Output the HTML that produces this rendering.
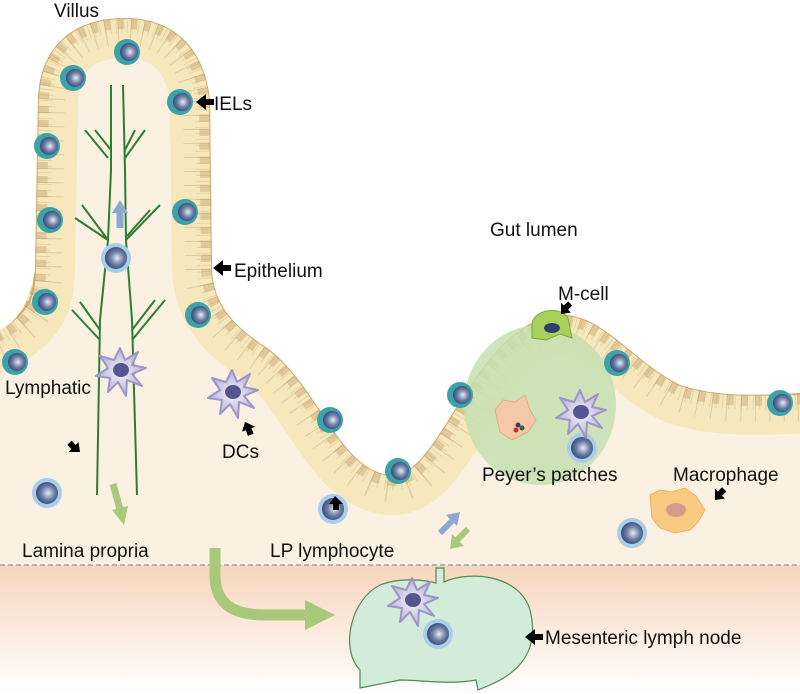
<!DOCTYPE html>
<html><head><style>
html,body{margin:0;padding:0;background:#fff;}
svg{display:block;font-family:"Liberation Sans",sans-serif;}
</style></head><body>
<svg width="800" height="694" viewBox="0 0 800 694" xmlns="http://www.w3.org/2000/svg">
<defs>
<linearGradient id="bot" x1="0" y1="0" x2="0" y2="1">
<stop offset="0" stop-color="#f7d5bd"/><stop offset="1" stop-color="#ffffff"/>
</linearGradient>
<radialGradient id="nuc" cx="0.55" cy="0.5" r="0.6">
<stop offset="0" stop-color="#e8ecf5"/><stop offset="0.5" stop-color="#6d7fa6"/><stop offset="1" stop-color="#2e3f6e"/>
</radialGradient>
<radialGradient id="dc" cx="0.5" cy="0.5" r="0.6">
<stop offset="0" stop-color="#f4f2fa"/><stop offset="1" stop-color="#a9a3d0"/>
</radialGradient>
<path id="line" d="M-20,338 C0,330 20,320 30,300 C34,290 35,280 35,270 L38,100 C40,40 80,18 125,18 C175,18 205,50 210,100 L212,270 C214,310 240,330 270,350 C320,390 340,470 390,475 C440,480 470,330 555,315 C600,310 630,360 680,385 C720,398 760,395 820,393"/>
<path id="surf" d="M0,330 C20,320 30,300 35,270 L38,100 C40,40 80,18 125,18 C175,18 205,50 210,100 L212,270 C214,310 240,330 270,350 C320,390 340,470 390,475 C440,480 470,330 555,315 C600,310 630,360 680,385 C720,398 760,395 800,393 L800,565 L0,565 Z"/>
<clipPath id="cp"><use href="#surf"/></clipPath>
<g id="lym"><circle r="15" fill="#a9cdea"/><circle r="11" fill="url(#nuc)"/></g>
<g id="iel"><circle r="13" fill="#3aa2a8"/><circle cx="2" r="9" fill="url(#nuc)"/></g>
<g id="dcell"><path d="M0,-22 L5,-10 L18,-18 L12,-5 L26,-2 L12,4 L22,16 L7,10 L6,26 L-2,12 L-12,22 L-10,8 L-24,6 L-12,-2 L-20,-14 L-6,-10 Z" fill="url(#dc)" stroke="#9c95c8" stroke-width="2" stroke-linejoin="round"/><ellipse cx="1" cy="0" rx="8" ry="7" fill="#55558f"/></g>
</defs>
<rect x="0" y="565" width="800" height="129" fill="url(#bot)"/>
<use href="#surf" fill="#faf1e2"/>
<g clip-path="url(#cp)">
<use href="#line" fill="none" stroke="#f6e7bd" stroke-width="80"/>
<use href="#line" fill="none" stroke="#c9ab6a" stroke-width="2"/>
<use href="#line" fill="none" stroke="#dcc68a" stroke-width="30" stroke-dasharray="1 5" opacity="0.6"/>
<use href="#line" fill="none" stroke="#c9a570" stroke-width="22" stroke-dasharray="7 7" opacity="0.45"/>
<use href="#line" fill="none" stroke="#b89a5e" stroke-width="54" stroke-dasharray="1 13" opacity="0.35"/>
</g>
<ellipse cx="540" cy="405" rx="76" ry="80" fill="#c5dfb0" opacity="0.85"/>
<line x1="0" y1="565" x2="800" y2="565" stroke="#7f93b0" stroke-dasharray="5 3" stroke-width="1.2"/>
<g stroke="#2e7d32" stroke-width="2" fill="none">
<path d="M111,85 L111,170 L108,240 L100,320 L97,495"/>
<path d="M123,85 L125,170 L126,240 L132,320 L137,495"/>
<path d="M85,130 L108,158 M95,130 L111,150 M145,130 L125,158 M135,130 L125,150"/>
<path d="M75,218 L108,240 M82,205 L108,240 M160,205 L126,240 M150,210 L127,236"/>
<path d="M72,310 L100,340 M80,302 L100,330 M165,300 L132,340 M155,300 L132,330"/>
</g>
<path d="M532,325 C532,310 560,305 568,318 L572,338 L560,334 L546,340 L532,338 Z" fill="#a8d05a" stroke="#7aa83a"/>
<ellipse cx="552" cy="328" rx="8" ry="5" fill="#2e3f6e"/>
<use href="#iel" x="127" y="52"/><use href="#iel" x="73" y="78"/><use href="#iel" x="180" y="102"/>
<use href="#iel" x="47" y="146"/><use href="#iel" x="185" y="212"/><use href="#iel" x="50" y="220"/>
<use href="#iel" x="45" y="302"/><use href="#iel" x="198" y="315"/><use href="#iel" x="15" y="362"/>
<use href="#iel" x="330" y="420"/><use href="#iel" x="398" y="471"/><use href="#iel" x="460" y="395"/>
<use href="#iel" x="617" y="363"/><use href="#iel" x="780" y="403"/>
<use href="#lym" x="116" y="258"/><use href="#lym" x="47" y="493"/><use href="#lym" x="333" y="509"/>
<use href="#lym" x="582" y="448"/><use href="#lym" x="632" y="533"/>
<use href="#dcell" x="120" y="370"/><use href="#dcell" x="232" y="392"/><use href="#dcell" x="580" y="412"/>
<path d="M495,410 L503,400 L515,402 L525,395 L530,410 L536,420 L528,432 L512,440 L500,432 Z" fill="#f5c8a8" stroke="#e8a880"/>
<circle cx="518" cy="425" r="2.5" fill="#2e3f6e"/><circle cx="522" cy="428" r="2.5" fill="#2e6040"/><circle cx="516" cy="430" r="2.5" fill="#c03030"/>
<path d="M650,495 L660,490 L672,492 L685,488 L696,496 L705,510 L698,522 L690,530 L675,533 L660,528 L652,518 Z" fill="#f9cb82" stroke="#f0b060"/>
<ellipse cx="676" cy="510" rx="10" ry="7" fill="#d89a8a"/>
<path d="M436,568 L444,568 L444,582 C470,570 520,575 530,610 C540,650 520,672 490,685 L478,690 L476,680 C450,685 420,680 400,680 L360,688 L360,670 C340,650 350,600 380,585 C400,577 425,580 436,583 Z" fill="#d3ebd9" stroke="#4f8a4f" stroke-width="1.2"/>
<use href="#dcell" x="412" y="600"/><use href="#lym" x="438" y="634"/>
<path d="M215,548 L215,575 C215,605 235,615 265,615 L305,615" fill="none" stroke="#a9c97a" stroke-width="11"/>
<path d="M305,600 L335,615 L305,630 Z" fill="#a9c97a"/>
<path d="M113,484 L121,513" stroke="#a9c97a" stroke-width="7"/><path d="M112,510 L124,525 L128,506 Z" fill="#a9c97a"/>
<path d="M120,228 L120,212" stroke="#8ea9cf" stroke-width="7"/><path d="M112,213 L120,200 L128,213 Z" fill="#8ea9cf"/>
<path d="M440,533 L452,521" stroke="#8ea9cf" stroke-width="6"/><path d="M446,515 L460,512 L457,526 Z" fill="#8ea9cf"/>
<path d="M468,529 L457,540" stroke="#a9c97a" stroke-width="6"/><path d="M452,534 L450,549 L464,546 Z" fill="#a9c97a"/>
<g fill="#000">
<path d="M196,102 l10,-8 v5 h8 v6 h-8 v5 z"/>
<path d="M213,268 l10,-8 v5 h8 v6 h-8 v5 z"/>
<path d="M525,637 l10,-8 v5 h8 v6 h-8 v5 z"/>
<path d="M0,0 l8,8 h-4 v6 h-6 v-6 h-4 z" transform="translate(335,496)"/>
<path d="M0,0 l8,8 h-4 v6 h-6 v-6 h-4 z" transform="translate(245,422) rotate(-20)"/>
<path d="M0,0 l8,8 h-4 v6 h-6 v-6 h-4 z" transform="translate(80,452) rotate(135)"/>
<path d="M0,0 l8,8 h-4 v6 h-6 v-6 h-4 z" transform="translate(561,314) rotate(-135)"/>
<path d="M0,0 l8,8 h-4 v6 h-6 v-6 h-4 z" transform="translate(715,500) rotate(-135)"/>
</g>
<g font-size="19" fill="#111">
<text x="54" y="17">Villus</text>
<text x="214" y="110">IELs</text>
<text x="490" y="236">Gut lumen</text>
<text x="234" y="277">Epithelium</text>
<text x="558" y="300">M-cell</text>
<text x="5" y="394">Lymphatic</text>
<text x="222" y="458">DCs</text>
<text x="482" y="481">Peyer’s patches</text>
<text x="673" y="481">Macrophage</text>
<text x="22" y="557">Lamina propria</text>
<text x="270" y="557">LP lymphocyte</text>
<text x="545" y="644">Mesenteric lymph node</text>
</g>
</svg>
</body></html>
